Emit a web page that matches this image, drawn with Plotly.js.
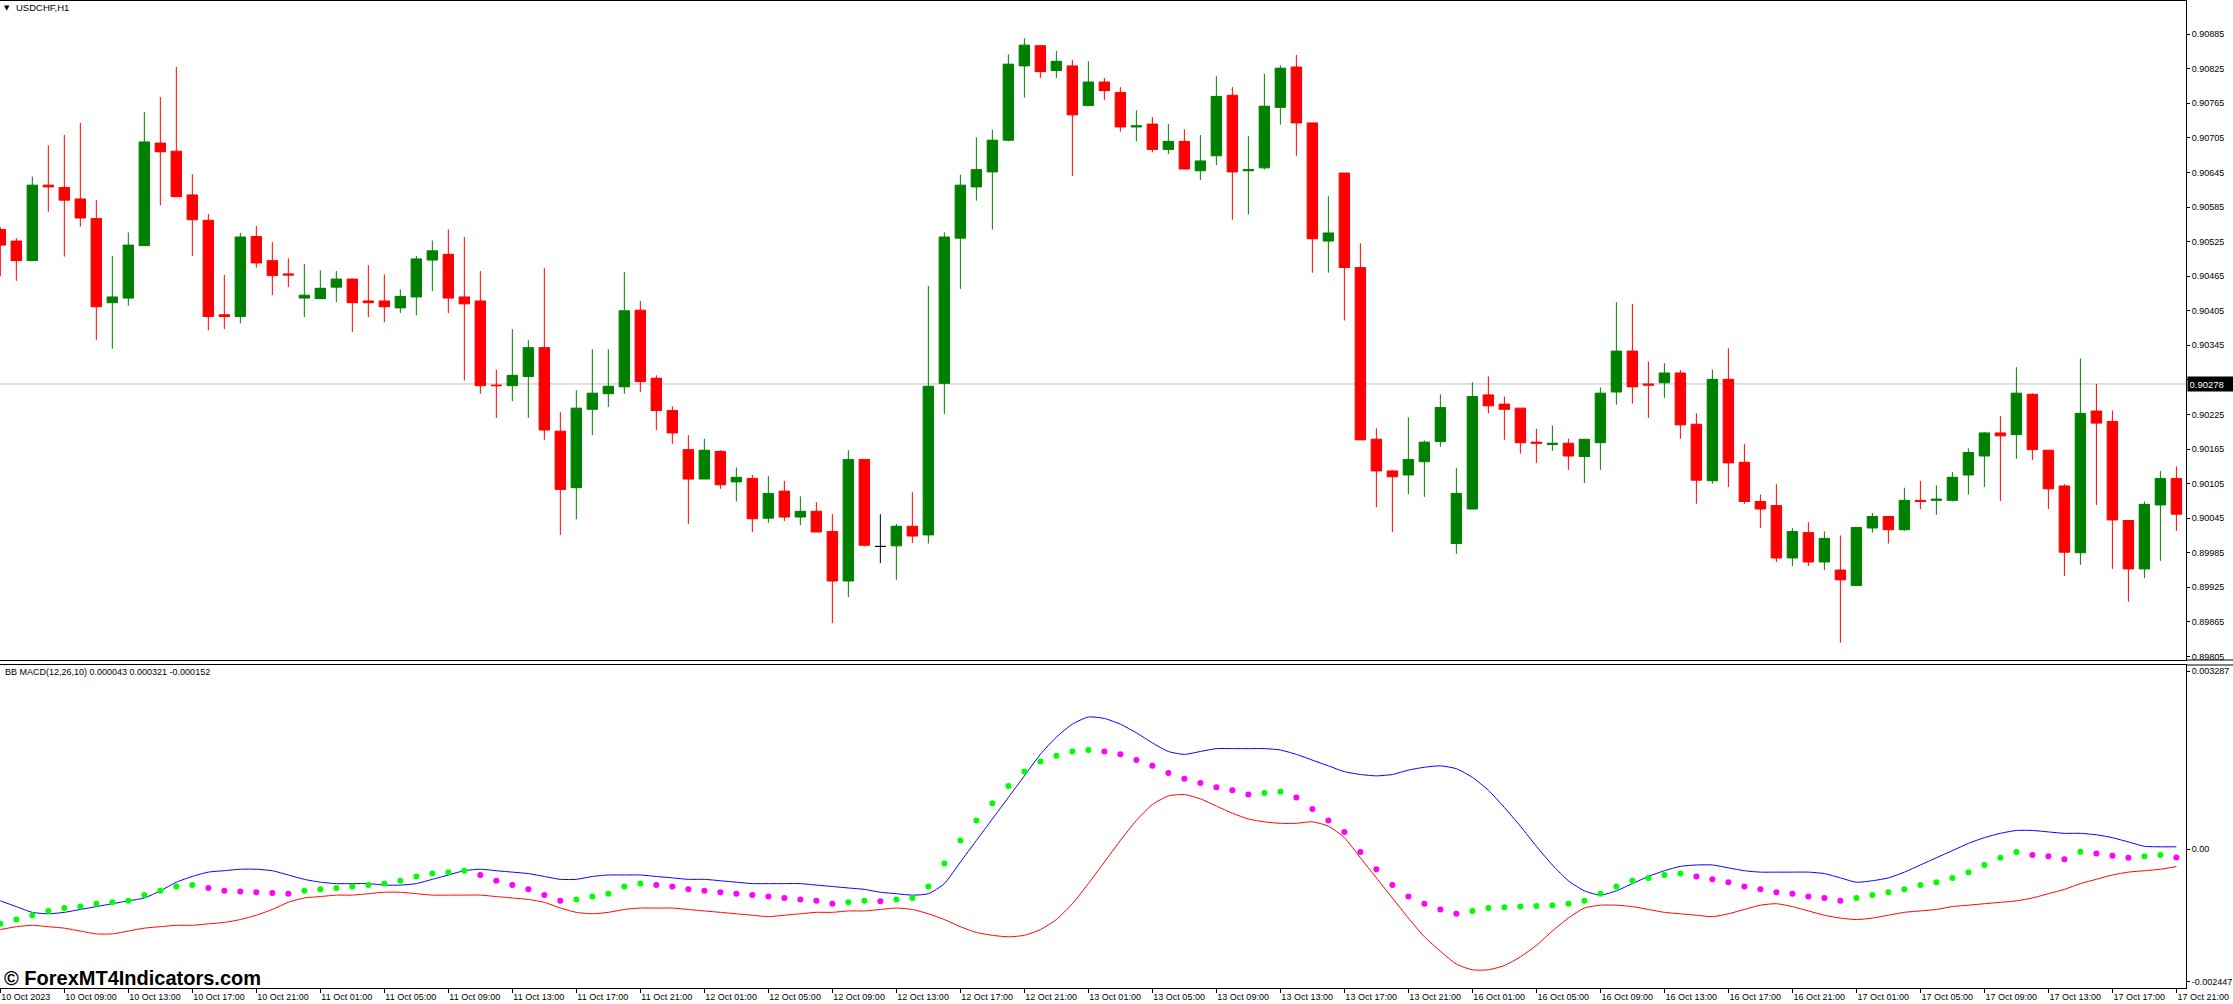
<!DOCTYPE html>
<html>
<head>
<meta charset="utf-8">
<script src="https://cdn.plot.ly/plotly-3.0.1.min.js"></script>
<style>
  html, body { margin: 0; padding: 0; background: #fff; }
  #chart { width: 2233px; height: 1004px; }
</style>
</head>
<body>
<div id="chart"></div>
<script>
// ---- USDCHF H1 candles (10 Oct 05:00 ... 17 Oct 21:00) ----
const opens = [
0.90546,0.90526,0.90492,0.90623,0.90619,0.90599,0.90565,0.90419,0.90427,0.90518,
0.90696,0.90682,0.90606,0.90562,0.90398,0.90395,0.90534,0.90492,0.90469,0.90427,
0.90426,0.90446,0.90460,0.90422,0.90422,0.90410,0.90429,0.90493,0.90503,0.90429,
0.90422,0.90276,0.90275,0.90291,0.90341,0.90196,0.90098,0.90234,0.90261,0.90273,
0.90406,0.90288,0.90232,0.90164,0.90113,0.90161,0.90108,0.90114,0.90045,0.90092,
0.90047,0.90057,0.90022,0.89936,0.90147,0.89996,0.89997,0.90031,0.90016,0.90279,
0.90531,0.90620,0.90646,0.90701,0.90830,0.90865,0.90822,0.90830,0.90761,0.90802,
0.90784,0.90724,0.90729,0.90685,0.90699,0.90648,0.90674,0.90779,0.90648,0.90653,
0.90758,0.90828,0.90731,0.90526,0.90644,0.90480,0.90182,0.90127,0.90120,0.90143,
0.90178,0.90001,0.90061,0.90259,0.90243,0.90236,0.90177,0.90173,0.90175,0.90152,
0.90176,0.90264,0.90335,0.90278,0.90280,0.90297,0.90208,0.90110,0.90286,0.90142,
0.90074,0.90067,0.89976,0.90020,0.89969,0.89955,0.89928,0.90028,0.90048,0.90025,
0.90076,0.90076,0.90076,0.90120,0.90153,0.90193,0.90190,0.90260,0.90163,0.90101,
0.89985,0.90231,0.90213,0.90041,0.89957,0.90068,0.90114];
const highs = [
0.90550,0.90531,0.90638,0.90692,0.90710,0.90731,0.90597,0.90500,0.90541,0.90750,
0.90776,0.90828,0.90642,0.90573,0.90467,0.90540,0.90552,0.90524,0.90496,0.90486,
0.90475,0.90474,0.90461,0.90484,0.90468,0.90442,0.90500,0.90527,0.90546,0.90533,
0.90474,0.90303,0.90373,0.90354,0.90479,0.90229,0.90267,0.90338,0.90338,0.90472,
0.90422,0.90293,0.90239,0.90189,0.90183,0.90163,0.90133,0.90120,0.90118,0.90110,
0.90083,0.90073,0.90052,0.90163,0.90147,0.90052,0.90035,0.90090,0.90448,0.90541,
0.90641,0.90706,0.90719,0.90850,0.90878,0.90866,0.90856,0.90840,0.90838,0.90809,
0.90793,0.90753,0.90741,0.90729,0.90720,0.90710,0.90812,0.90793,0.90708,0.90816,
0.90831,0.90849,0.90731,0.90604,0.90644,0.90522,0.90201,0.90128,0.90220,0.90180,
0.90260,0.90132,0.90281,0.90291,0.90256,0.90236,0.90200,0.90206,0.90183,0.90182,
0.90272,0.90420,0.90417,0.90317,0.90314,0.90302,0.90227,0.90303,0.90340,0.90174,
0.90086,0.90104,0.90028,0.90038,0.90022,0.90015,0.90029,0.90054,0.90048,0.90098,
0.90110,0.90102,0.90125,0.90166,0.90194,0.90222,0.90307,0.90262,0.90163,0.90104,
0.90322,0.90278,0.90232,0.90041,0.90074,0.90127,0.90135];
const lows = [
0.90465,0.90457,0.90492,0.90577,0.90499,0.90551,0.90354,0.90339,0.90414,0.90518,
0.90588,0.90603,0.90500,0.90371,0.90373,0.90383,0.90480,0.90432,0.90446,0.90394,
0.90426,0.90420,0.90368,0.90394,0.90385,0.90401,0.90397,0.90439,0.90401,0.90284,
0.90261,0.90219,0.90248,0.90219,0.90181,0.90016,0.90043,0.90189,0.90238,0.90261,
0.90264,0.90198,0.90174,0.90035,0.90113,0.90096,0.90074,0.90021,0.90037,0.90040,
0.90033,0.90021,0.89863,0.89908,0.89996,0.89967,0.89938,0.90002,0.90001,0.90226,
0.90443,0.90596,0.90546,0.90699,0.90775,0.90809,0.90809,0.90639,0.90761,0.90771,
0.90716,0.90699,0.90680,0.90677,0.90651,0.90632,0.90658,0.90563,0.90572,0.90650,
0.90728,0.90674,0.90471,0.90471,0.90388,0.90181,0.90064,0.90021,0.90087,0.90082,
0.90169,0.89983,0.90061,0.90227,0.90181,0.90157,0.90141,0.90162,0.90129,0.90106,
0.90129,0.90242,0.90244,0.90219,0.90254,0.90183,0.90070,0.90105,0.90099,0.90070,
0.90028,0.89969,0.89962,0.89962,0.89955,0.89829,0.89928,0.90020,0.90001,0.90023,
0.90061,0.90051,0.90074,0.90086,0.90099,0.90075,0.90148,0.90146,0.90061,0.89945,
0.89964,0.90068,0.89957,0.89900,0.89941,0.89971,0.90023];
const closes = [
0.90519,0.90492,0.90623,0.90620,0.90597,0.90566,0.90412,0.90429,0.90519,0.90698,
0.90681,0.90603,0.90563,0.90395,0.90395,0.90533,0.90488,0.90466,0.90467,0.90432,
0.90444,0.90460,0.90419,0.90419,0.90412,0.90430,0.90495,0.90509,0.90427,0.90417,
0.90275,0.90275,0.90293,0.90341,0.90198,0.90095,0.90236,0.90262,0.90274,0.90405,
0.90282,0.90232,0.90193,0.90113,0.90163,0.90103,0.90116,0.90044,0.90088,0.90047,
0.90057,0.90021,0.89936,0.90147,0.89998,0.89996,0.90031,0.90014,0.90274,0.90533,
0.90623,0.90650,0.90701,0.90833,0.90866,0.90820,0.90838,0.90745,0.90802,0.90787,
0.90724,0.90726,0.90685,0.90699,0.90651,0.90665,0.90777,0.90646,0.90650,0.90760,
0.90826,0.90731,0.90530,0.90540,0.90480,0.90181,0.90127,0.90117,0.90147,0.90177,
0.90237,0.90088,0.90256,0.90240,0.90234,0.90176,0.90175,0.90175,0.90153,0.90182,
0.90262,0.90335,0.90273,0.90276,0.90297,0.90207,0.90111,0.90286,0.90141,0.90074,
0.90061,0.89976,0.90022,0.89969,0.90010,0.89938,0.90029,0.90048,0.90025,0.90076,
0.90074,0.90078,0.90116,0.90159,0.90193,0.90188,0.90262,0.90164,0.90096,0.89986,
0.90227,0.90210,0.90042,0.89957,0.90069,0.90114,0.90052];

// ---- BB MACD(12,26,10) ----
const macdValue = [
-0.001378,-0.001299,-0.001219,-0.001140,-0.001087,-0.001060,-0.001007,-0.000981,-0.000954,-0.000848,
-0.000769,-0.000689,-0.000663,-0.000716,-0.000769,-0.000782,-0.000795,-0.000808,-0.000822,-0.000769,
-0.000742,-0.000716,-0.000689,-0.000663,-0.000636,-0.000583,-0.000504,-0.000451,-0.000424,-0.000398,
-0.000477,-0.000583,-0.000663,-0.000742,-0.000848,-0.000954,-0.000928,-0.000875,-0.000822,-0.000689,
-0.000636,-0.000663,-0.000689,-0.000742,-0.000769,-0.000795,-0.000822,-0.000848,-0.000875,-0.000901,
-0.000928,-0.000954,-0.001007,-0.000981,-0.000954,-0.000960,-0.000928,-0.000901,-0.000689,-0.000265,
0.000159,0.000530,0.000848,0.001166,0.001431,0.001617,0.001723,0.001802,0.001829,0.001802,
0.001749,0.001643,0.001537,0.001405,0.001299,0.001219,0.001140,0.001087,0.001007,0.001034,
0.001060,0.000954,0.000742,0.000530,0.000318,-0.000053,-0.000371,-0.000663,-0.000875,-0.001007,
-0.001113,-0.001193,-0.001140,-0.001087,-0.001073,-0.001060,-0.001047,-0.001034,-0.001007,-0.000954,
-0.000822,-0.000689,-0.000583,-0.000530,-0.000477,-0.000451,-0.000504,-0.000557,-0.000610,-0.000689,
-0.000742,-0.000795,-0.000822,-0.000875,-0.000901,-0.000954,-0.000901,-0.000848,-0.000795,-0.000742,
-0.000663,-0.000610,-0.000530,-0.000424,-0.000292,-0.000159,-0.000053,-0.000106,-0.000133,-0.000186,
-0.000050,-0.000080,-0.000120,-0.000160,-0.000130,-0.000110,-0.000152];
const upperBand = [
-0.000954,-0.001060,-0.001166,-0.001193,-0.001166,-0.001113,-0.001060,-0.001007,-0.000954,-0.000901,
-0.000769,-0.000610,-0.000504,-0.000424,-0.000398,-0.000371,-0.000371,-0.000398,-0.000477,-0.000557,
-0.000610,-0.000636,-0.000636,-0.000636,-0.000663,-0.000663,-0.000636,-0.000557,-0.000477,-0.000398,
-0.000371,-0.000398,-0.000424,-0.000451,-0.000504,-0.000557,-0.000557,-0.000504,-0.000477,-0.000477,
-0.000477,-0.000504,-0.000530,-0.000557,-0.000557,-0.000583,-0.000610,-0.000636,-0.000636,-0.000636,
-0.000636,-0.000663,-0.000689,-0.000716,-0.000742,-0.000795,-0.000822,-0.000848,-0.000822,-0.000636,
-0.000239,0.000159,0.000557,0.000954,0.001352,0.001749,0.002067,0.002306,0.002438,0.002412,
0.002306,0.002147,0.001961,0.001802,0.001749,0.001802,0.001855,0.001855,0.001855,0.001855,
0.001829,0.001749,0.001643,0.001537,0.001431,0.001378,0.001352,0.001378,0.001458,0.001511,
0.001537,0.001484,0.001325,0.001087,0.000769,0.000424,0.000053,-0.000292,-0.000583,-0.000769,
-0.000848,-0.000769,-0.000636,-0.000504,-0.000398,-0.000318,-0.000292,-0.000292,-0.000345,-0.000398,
-0.000424,-0.000424,-0.000424,-0.000424,-0.000451,-0.000530,-0.000610,-0.000583,-0.000530,-0.000424,
-0.000292,-0.000159,-0.000027,0.000106,0.000212,0.000292,0.000345,0.000345,0.000318,0.000292,
0.000292,0.000265,0.000212,0.000133,0.000053,0.000043,0.000043];
const lowerBand = [
-0.001484,-0.001431,-0.001405,-0.001431,-0.001458,-0.001511,-0.001564,-0.001564,-0.001511,-0.001458,
-0.001431,-0.001405,-0.001405,-0.001378,-0.001352,-0.001299,-0.001219,-0.001113,-0.000981,-0.000901,
-0.000875,-0.000848,-0.000848,-0.000822,-0.000795,-0.000795,-0.000822,-0.000848,-0.000848,-0.000848,
-0.000848,-0.000875,-0.000901,-0.000928,-0.000981,-0.001087,-0.001166,-0.001193,-0.001166,-0.001113,
-0.001087,-0.001087,-0.001087,-0.001113,-0.001140,-0.001166,-0.001193,-0.001219,-0.001246,-0.001219,
-0.001193,-0.001166,-0.001166,-0.001140,-0.001140,-0.001113,-0.001087,-0.001113,-0.001193,-0.001299,
-0.001431,-0.001537,-0.001590,-0.001617,-0.001590,-0.001484,-0.001299,-0.001007,-0.000636,-0.000239,
0.000159,0.000530,0.000822,0.000981,0.001007,0.000928,0.000795,0.000663,0.000557,0.000504,
0.000477,0.000477,0.000504,0.000424,0.000212,-0.000159,-0.000530,-0.000901,-0.001272,-0.001617,
-0.001882,-0.002120,-0.002226,-0.002226,-0.002147,-0.001988,-0.001776,-0.001511,-0.001272,-0.001087,
-0.001034,-0.001034,-0.001060,-0.001113,-0.001166,-0.001193,-0.001219,-0.001246,-0.001193,-0.001113,
-0.001034,-0.001007,-0.001060,-0.001140,-0.001219,-0.001272,-0.001299,-0.001272,-0.001219,-0.001166,
-0.001140,-0.001113,-0.001060,-0.001034,-0.001007,-0.000981,-0.000954,-0.000901,-0.000822,-0.000742,
-0.000636,-0.000557,-0.000477,-0.000424,-0.000398,-0.000371,-0.000321];

// ---- axis labels ----
const timeTickLabels = [
"10 Oct 2023","10 Oct 09:00","10 Oct 13:00","10 Oct 17:00","10 Oct 21:00",
"11 Oct 01:00","11 Oct 05:00","11 Oct 09:00","11 Oct 13:00","11 Oct 17:00","11 Oct 21:00",
"12 Oct 01:00","12 Oct 05:00","12 Oct 09:00","12 Oct 13:00","12 Oct 17:00","12 Oct 21:00",
"13 Oct 01:00","13 Oct 05:00","13 Oct 09:00","13 Oct 13:00","13 Oct 17:00","13 Oct 21:00",
"16 Oct 01:00","16 Oct 05:00","16 Oct 09:00","16 Oct 13:00","16 Oct 17:00","16 Oct 21:00",
"17 Oct 01:00","17 Oct 05:00","17 Oct 09:00","17 Oct 13:00","17 Oct 17:00","17 Oct 21:00"];
const timeTickBars = [0,4,8,12,16,20,24,28,32,36,40,44,48,52,56,60,64,68,72,76,80,84,88,92,96,100,104,108,112,116,120,124,128,132,136];
const priceTicks = [0.89805,0.89865,0.89925,0.89985,0.90045,0.90105,0.90165,0.90225,0.90285,0.90345,0.90405,0.90465,0.90525,0.90585,0.90645,0.90705,0.90765,0.90825,0.90885];
const macdTicks = [0.003287, 0, -0.002447];
const macdTickText = ["0.003287", "0.00", "-0.002447"];
const currentPrice = 0.90278;
const symbolTitle = "USDCHF,H1";
const indicatorTitle = "BB MACD(12,26,10) 0.000043 0.000321 -0.000152";
const watermark = "\u00A9 ForexMT4Indicators.com";

// ---- build ----
const bars = opens.map((_, i) => i);
const isDoji = i => opens[i] === closes[i];
const normIdx = bars.filter(i => !isDoji(i));
const dojiIdx = bars.filter(i => isDoji(i));
const pick = (arr, idx) => idx.map(i => arr[i]);

const GREEN = '#008000', RED = '#FF0000';
const FONT = 'Liberation Sans, Arial, sans-serif';

const candles = {
  type: 'candlestick', xaxis: 'x', yaxis: 'y',
  x: normIdx, open: pick(opens, normIdx), high: pick(highs, normIdx),
  low: pick(lows, normIdx), close: pick(closes, normIdx),
  increasing: { line: { color: GREEN, width: 1 }, fillcolor: GREEN },
  decreasing: { line: { color: RED, width: 1 }, fillcolor: RED },
  whiskerwidth: 0, hoverinfo: 'skip', showlegend: false
};
const dojis = {
  type: 'candlestick', xaxis: 'x', yaxis: 'y',
  x: dojiIdx, open: pick(opens, dojiIdx), high: pick(highs, dojiIdx),
  low: pick(lows, dojiIdx), close: pick(closes, dojiIdx),
  increasing: { line: { color: '#000000', width: 1 }, fillcolor: '#000000' },
  decreasing: { line: { color: '#000000', width: 1 }, fillcolor: '#000000' },
  whiskerwidth: 0, hoverinfo: 'skip', showlegend: false
};
const upper = {
  type: 'scatter', mode: 'lines', xaxis: 'x2', yaxis: 'y2',
  x: bars, y: upperBand, line: { color: '#0000FF', width: 1, shape: 'spline', smoothing: 0.6 },
  hoverinfo: 'skip', showlegend: false
};
const lower = {
  type: 'scatter', mode: 'lines', xaxis: 'x2', yaxis: 'y2',
  x: bars, y: lowerBand, line: { color: '#FF0000', width: 1, shape: 'spline', smoothing: 0.6 },
  hoverinfo: 'skip', showlegend: false
};
const dotColors = macdValue.map((v, i) => (i === 0 || v >= macdValue[i - 1]) ? '#00FF00' : '#FF00FF');
const dots = {
  type: 'scatter', mode: 'markers', xaxis: 'x2', yaxis: 'y2',
  x: bars, y: macdValue, marker: { color: dotColors, size: 6, line: { width: 0 } },
  hoverinfo: 'skip', showlegend: false
};

const H = 988; // plot-area height in px
const py = px => (H - px) / H;
const xRange = [-0.02, 136.6];
const rightEdge = 2233 / 2186;

const layout = {
  width: 2233, height: 1004,
  margin: { l: 0, r: 47, t: 0, b: 16, pad: 0 },
  paper_bgcolor: '#ffffff', plot_bgcolor: '#ffffff',
  showlegend: false,
  boxgap: 0.35, boxgroupgap: 0,
  font: { family: FONT, size: 9, color: '#000000' },
  xaxis: {
    domain: [0, 1], anchor: 'y', range: xRange, type: 'linear',
    showticklabels: false, ticks: '', showgrid: false, zeroline: false,
    showline: true, mirror: true, linecolor: '#000000', linewidth: 1,
    rangeslider: { visible: false }, fixedrange: true
  },
  xaxis2: {
    domain: [0, 1], anchor: 'y2', range: xRange, type: 'linear',
    tickmode: 'array', tickvals: timeTickBars, ticktext: timeTickLabels,
    ticks: 'outside', ticklen: 4, tickwidth: 1, tickcolor: '#000000',
    ticklabelposition: 'outside right',
    tickfont: { family: FONT, size: 9, color: '#000000' },
    showgrid: false, zeroline: false,
    showline: true, mirror: true, linecolor: '#000000', linewidth: 1,
    rangeslider: { visible: false }, fixedrange: true
  },
  yaxis: {
    domain: [py(660), py(1)], anchor: 'x', side: 'right',
    range: [0.897989, 0.909426],
    tickmode: 'array', tickvals: priceTicks, tickformat: '.5f',
    ticks: 'outside', ticklen: 3, tickcolor: '#000000',
    tickfont: { family: FONT, size: 9, color: '#000000' },
    showgrid: false, zeroline: false,
    showline: true, linecolor: '#000000', linewidth: 1, fixedrange: true
  },
  yaxis2: {
    domain: [0, py(665)], anchor: 'x2', side: 'right',
    range: [-0.002562, 0.003398],
    tickmode: 'array', tickvals: macdTicks, ticktext: macdTickText,
    ticks: 'outside', ticklen: 3, tickcolor: '#000000',
    tickfont: { family: FONT, size: 9, color: '#000000' },
    showgrid: false, zeroline: false,
    showline: true, linecolor: '#000000', linewidth: 1, fixedrange: true
  },
  shapes: [
    { type: 'line', xref: 'paper', yref: 'y', x0: 0, x1: 1, y0: currentPrice, y1: currentPrice,
      line: { color: '#C0C0C0', width: 1 }, layer: 'below' },
    { type: 'line', xref: 'paper', yref: 'paper', x0: 1, x1: rightEdge, y0: py(660), y1: py(660),
      line: { color: '#000000', width: 1 } },
    { type: 'line', xref: 'paper', yref: 'paper', x0: 1, x1: rightEdge, y0: py(665), y1: py(665),
      line: { color: '#000000', width: 1 } }
  ],
  annotations: [
    { xref: 'paper', yref: 'paper', x: 0, y: py(8), xanchor: 'left', yanchor: 'middle', xshift: 2,
      text: '\u25BC', showarrow: false, font: { family: 'DejaVu Sans', size: 7, color: '#000000' } },
    { xref: 'paper', yref: 'paper', x: 0, y: py(8), xanchor: 'left', yanchor: 'middle', xshift: 14,
      text: symbolTitle, showarrow: false, font: { family: FONT, size: 9.5, color: '#000000' } },
    { xref: 'paper', yref: 'paper', x: 0, y: py(672), xanchor: 'left', yanchor: 'middle', xshift: 3,
      text: indicatorTitle, showarrow: false, font: { family: FONT, size: 9, color: '#000000' } },
    { xref: 'paper', yref: 'paper', x: 0, y: py(978), xanchor: 'left', yanchor: 'middle', xshift: 2,
      text: watermark, showarrow: false, font: { family: FONT, size: 20, color: '#000000', weight: 'bold' } },
    { xref: 'paper', yref: 'y', x: 1, y: currentPrice, xanchor: 'left', yanchor: 'middle', xshift: 1,
      text: currentPrice.toFixed(5), showarrow: false, bgcolor: '#000000', borderpad: 1.5,
      width: 42, align: 'left',
      font: { family: FONT, size: 9.5, color: '#ffffff' } }
  ]
};

Plotly.newPlot('chart', [candles, dojis, upper, lower, dots], layout, { staticPlot: true, displayModeBar: false });
</script>
</body>
</html>
